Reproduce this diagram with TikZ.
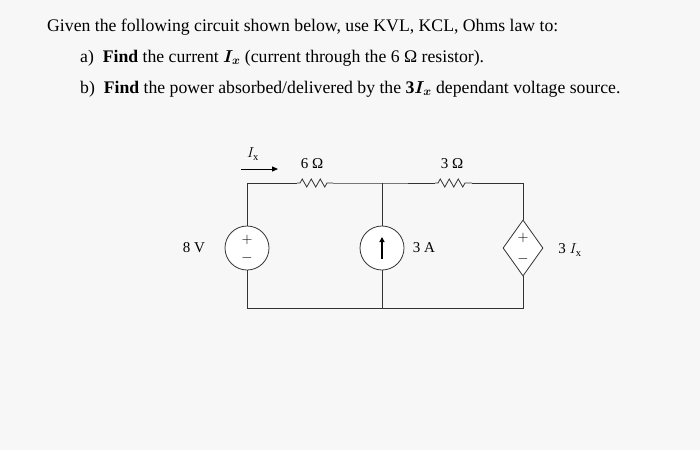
\documentclass[tikz,border=0pt]{standalone}
\usepackage{amsmath,bm}
\usepackage{fontspec}
\setmainfont{Liberation Serif}
\usetikzlibrary{shapes.geometric,decorations.pathmorphing,arrows.meta}
\begin{document}
\begin{tikzpicture}[x=1pt,y=-1pt,
  wire/.style={line width=0.8pt,draw=black!80},
  src/.style={circle,draw=black!80,line width=0.8pt,minimum size=44pt,inner sep=0pt,fill=white},
  res/.style={line width=0.8pt,draw=black!80,decorate,decoration={zigzag,segment length=9pt,amplitude=4pt,pre length=3pt,post length=3pt}},
  lab/.style={font=\fontsize{15}{15}\selectfont},
  txt/.style={anchor=west,font=\fontsize{17.7}{17.7}\selectfont,inner sep=0pt}]
\useasboundingbox[fill=white] (0,0) rectangle (700,450);
\fill[gray!6] (0,0) rectangle (700,450);
\node[txt] (t0) at (47,27) {Given the following circuit shown below, use KVL, KCL, Ohms law to:};
\node[txt] (t1) at (80,58) {a)\enspace\textbf{Find} the current $\bm{I_x}$ (current through the 6 Ω resistor).};
\node[txt] (t2) at (80,89) {b)\enspace\textbf{Find} the power absorbed/delivered by the $\mathbf{3}\bm{I_x}$ dependant voltage source.};
\coordinate (tl) at (247,183);
\coordinate (r1a) at (297,183);
\coordinate (r1b) at (333,183);
\coordinate (tm) at (382,183);
\coordinate (r2a) at (435,183);
\coordinate (r2b) at (472,183);
\coordinate (tr) at (523,183);
\coordinate (bl) at (247,308);
\coordinate (bm) at (382,308);
\coordinate (br) at (523,308);
\node[src] (v) at (247,248) {};
\node[src] (c) at (382,248) {};
\node[diamond,draw=black!80,line width=0.8pt,fill=white,minimum width=40pt,minimum height=56pt,inner sep=0pt] (d) at (523,248) {};
\draw[wire] (v.north) -- (tl) -- (r1a);
\draw[res] (r1a) -- (r1b);
\draw[wire] (r1b) -- (tm) -- (r2a);
\draw[res] (r2a) -- (r2b);
\draw[wire] (r2b) -- (tr) -- (d.north);
\draw[wire] (c.north) -- (tm);
\draw[wire] (v.south) -- (bl) -- (br) -- (d.south);
\draw[wire] (c.south) -- (bm);
\node[lab] (vp) at (247,240) {$+$};
\node[lab] (vm) at (247,258) {$-$};
\node[lab] (dp) at (523,238) {$+$};
\node[lab] (dm) at (523,259) {$-$};
\coordinate (ca) at (382,259);
\coordinate (cb) at (382,237);
\draw[line width=1.2pt,-{Triangle[length=5pt,width=5pt]}] (ca) -- (cb);
\node[lab] (vl) at (194,248) {8 V};
\node[lab] (cl) at (424,248) {3 A};
\node[lab] (dl) at (570,250) {3 $I_{\mathrm x}$};
\node[lab] (rl1) at (312,164) {6 Ω};
\node[lab] (rl2) at (452,164) {3 Ω};
\node[lab] (ix) at (253,154) {$I_{\mathrm x}$};
\coordinate (aa) at (241,169);
\coordinate (ab) at (278,169);
\draw[line width=1pt,-{Triangle[length=6pt,width=5pt]}] (aa) -- (ab);
\end{tikzpicture}
\end{document}
